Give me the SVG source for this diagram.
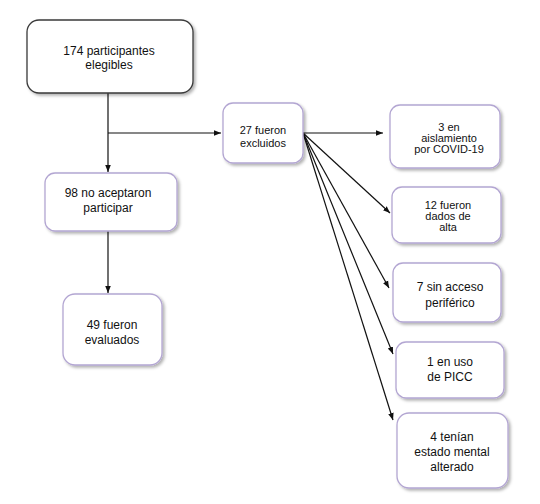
<svg xmlns="http://www.w3.org/2000/svg" width="540" height="504" viewBox="0 0 540 504">
<defs>
<marker id="ah" viewBox="0 0 10 10" refX="10" refY="5" markerWidth="7" markerHeight="7" orient="auto" markerUnits="userSpaceOnUse">
<path d="M0,1 L10,5 L0,9 z" fill="#111"/>
</marker>
<filter id="sh" x="-10%" y="-10%" width="130%" height="130%">
<feDropShadow dx="2" dy="2" stdDeviation="1.5" flood-color="#000" flood-opacity="0.3"/>
</filter>
</defs>
<style>
.box{fill:#fff;stroke:#b3a6d2;stroke-width:1.3;filter:url(#sh)}
.dark{stroke:#3a3a3a}
.t{font-family:"Liberation Sans",Arial,sans-serif;font-size:12px;fill:#111;text-anchor:middle}
.s{font-size:11px}
.c{stroke:#111;stroke-width:1.2;fill:none}
</style>
<g id="connectors">
<line class="c" x1="108" y1="93" x2="108" y2="172" marker-end="url(#ah)"/>
<line class="c" x1="108" y1="231" x2="108" y2="293" marker-end="url(#ah)"/>
<line class="c" x1="108" y1="133" x2="221" y2="133" marker-end="url(#ah)"/>
<line class="c" x1="303" y1="133" x2="383" y2="133" marker-end="url(#ah)"/>
<line class="c" x1="303" y1="133" x2="390" y2="213" marker-end="url(#ah)"/>
<line class="c" x1="303" y1="133" x2="389" y2="288" marker-end="url(#ah)"/>
<line class="c" x1="303" y1="133" x2="393" y2="354" marker-end="url(#ah)"/>
<line class="c" x1="303" y1="133" x2="393" y2="420" marker-end="url(#ah)"/>
</g>
<g id="n1"><rect class="box dark" x="27" y="20" width="166" height="73" rx="12"/>
<text class="t" x="109" y="55">174 participantes</text><text class="t" x="109" y="69">elegibles</text></g>
<g id="n2"><rect class="box" x="45" y="173" width="132" height="58" rx="10"/>
<text class="t" x="108" y="197">98 no aceptaron</text><text class="t" x="108" y="212">participar</text></g>
<g id="n3"><rect class="box" x="63" y="294" width="99" height="71" rx="12"/>
<text class="t" x="112" y="329">49 fueron</text><text class="t" x="112" y="344">evaluados</text></g>
<g id="n4"><rect class="box" x="223" y="103" width="80" height="60" rx="10"/>
<text class="t s" x="263" y="134">27 fueron</text><text class="t s" x="263" y="147">excluidos</text></g>
<g id="n5"><rect class="box" x="390" y="105" width="110" height="63" rx="10"/>
<text class="t s" x="449" y="131">3 en</text><text class="t s" x="449" y="142">aislamiento</text><text class="t s" x="449" y="153">por COVID-19</text></g>
<g id="n6"><rect class="box" x="392" y="187" width="109" height="56" rx="10"/>
<text class="t s" x="448" y="209">12 fueron</text><text class="t s" x="448" y="220">dados de</text><text class="t s" x="448" y="231">alta</text></g>
<g id="n7"><rect class="box" x="393" y="263" width="108" height="59" rx="10"/>
<text class="t" x="450" y="291">7 sin acceso</text><text class="t" x="450" y="307">periférico</text></g>
<g id="n8"><rect class="box" x="396" y="342" width="108" height="56" rx="10"/>
<text class="t" x="450" y="366">1 en uso</text><text class="t" x="450" y="381">de PICC</text></g>
<g id="n9"><rect class="box" x="397" y="413" width="111" height="75" rx="12"/>
<text class="t" x="452" y="441">4 tenían</text><text class="t" x="452" y="456">estado mental</text><text class="t" x="452" y="471">alterado</text></g>
</svg>
